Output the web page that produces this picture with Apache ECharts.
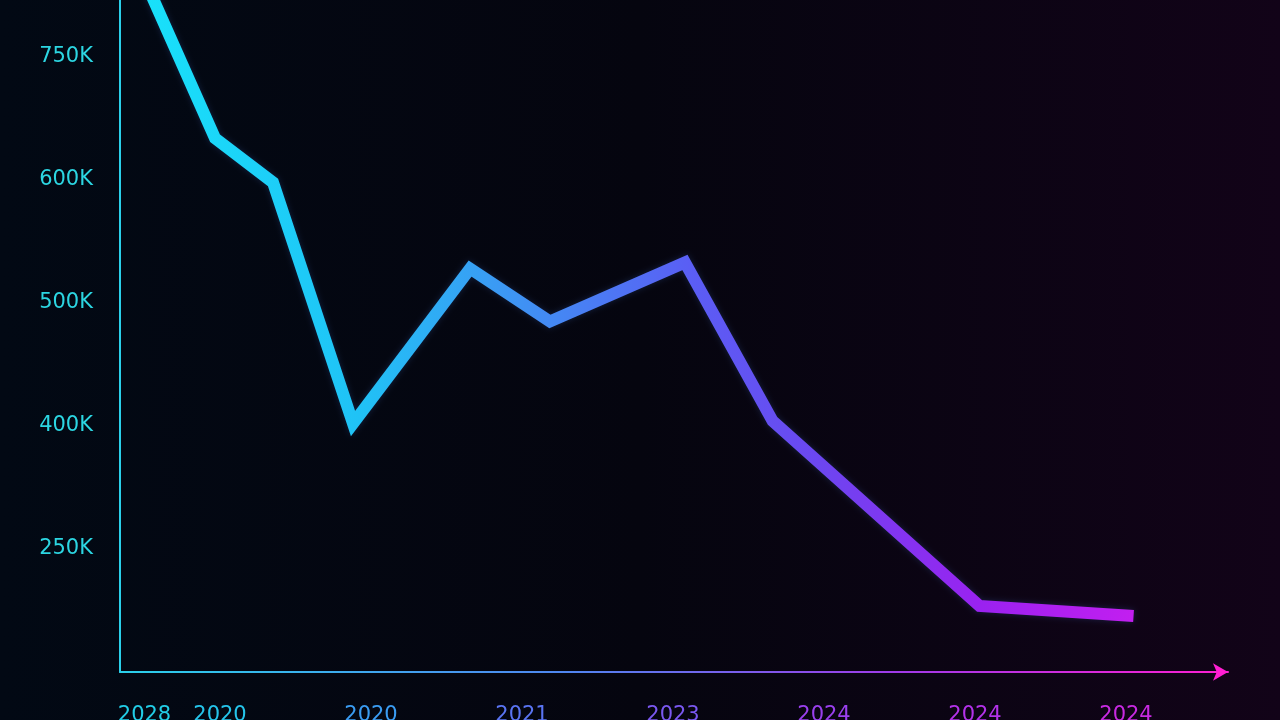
<!DOCTYPE html>
<html><head><meta charset="utf-8">
<script src="https://cdn.jsdelivr.net/npm/echarts@6/dist/echarts.min.js"></script>
<style>html,body{margin:0;padding:0;background:#04060f;overflow:hidden;}#c{width:1280px;height:720px;}</style>
</head><body><div id="c"></div>
<script>
// x positions in "label step" units, y values in axis-tick units
const xValues = [-0.5, -0.033, 0.351, 0.881, 1.656, 2.185, 3.079, 3.66, 5.03, 6.05];
const yValues = [5.63, 4.34, 3.98, 2.02, 3.28, 2.85, 3.33, 2.04, 0.537, 0.455];
const xTickPos = [-0.5, 0, 1, 2, 3, 4, 5, 6];
const xTickLabels = ['2028', '2020', '2020', '2021', '2023', '2024', '2024', '2024'];
const yTickPos = [1, 2, 3, 4, 5];
const yTickLabels = ['250K', '400K', '500K', '600K', '750K'];

const xLabelColors = ['#22cde6', '#25c4ea', '#3a9cf2', '#5a74f2', '#7a58f0', '#9a40ee', '#b432ea', '#c82ae2'];

const chart = echarts.init(document.getElementById('c'), null, {renderer: 'canvas'});
const G = echarts.graphic.LinearGradient;
const xMin = -100 / 151, xMax = 1008 / 151;
function idx(arr, v) { return arr.findIndex(p => Math.abs(p - v) < 1e-6); }
chart.setOption({
  backgroundColor: new G(0, 0, 1, 0, [
    {offset: 0, color: '#020914'},
    {offset: 0.5, color: '#05050f'},
    {offset: 1, color: '#120318'}
  ]),
  animation: false,
  grid: {left: 120, right: 52, top: 0, bottom: 48, containLabel: false, outerBoundsMode: 'none'},
  xAxis: [{
    type: 'value', min: xMin, max: xMax,
    splitLine: {show: false},
    axisTick: {show: false},
    axisLine: {
      show: true, onZero: false,
      lineStyle: {
        width: 2,
        color: new G(120, 0, 1228, 0, [
          {offset: 0, color: '#2bd0ea'},
          {offset: 0.4, color: '#4f86f0'},
          {offset: 0.7, color: '#a03ae8'},
          {offset: 1, color: '#ff1ed2'}
        ], true)
      }
    },
    axisLabel: {
      customValues: xTickPos,
      margin: 33,
      fontFamily: 'DejaVu Sans', fontSize: 21,
      formatter: function (v) { const i = idx(xTickPos, v); return i >= 0 ? xTickLabels[i] : ''; },
      color: function (v) { const i = idx(xTickPos, v); return i >= 0 ? xLabelColors[i] : '#fff'; }
    }
  }, {
    type: 'value', min: xMin, max: xMax, position: 'bottom',
    splitLine: {show: false}, axisTick: {show: false}, axisLabel: {show: false},
    axisLine: {
      show: true, onZero: false,
      symbol: ['none', 'arrow'], symbolSize: [13, 15], symbolOffset: [0, 0],
      lineStyle: {width: 0, color: '#ff1ed2'}
    }
  }],
  yAxis: {
    type: 'value', min: 0, max: 672 / 123,
    splitLine: {show: false},
    axisTick: {show: false},
    axisLine: {show: true, onZero: false, lineStyle: {width: 2, color: '#2bd0ea'}},
    axisLabel: {
      customValues: yTickPos,
      margin: 27,
      padding: [5, 0, 0, 0],
      fontFamily: 'DejaVu Sans', fontSize: 21,
      color: '#2cd6e2',
      formatter: function (v) { const i = idx(yTickPos, v); return i >= 0 ? yTickLabels[i] : ''; }
    }
  },
  series: [{
    type: 'line',
    data: xValues.map((x, i) => [x, yValues[i]]),
    showSymbol: false,
    symbol: 'none',
    clip: false,
    lineStyle: {
      width: 12, cap: 'butt', join: 'miter',
      color: new G(140, 0, 1140, 0, [
        {offset: 0, color: '#18e2fa'},
        {offset: 0.22, color: '#20c2f6'},
        {offset: 0.35, color: '#3a9cf4'},
        {offset: 0.55, color: '#5a5ef4'},
        {offset: 0.68, color: '#6c46f0'},
        {offset: 0.84, color: '#9a22f0'},
        {offset: 1, color: '#c41ef0'}
      ], true),
      shadowColor: 'rgba(80,140,255,0.2)', shadowBlur: 6
    }
  }]
});
</script></body></html>
